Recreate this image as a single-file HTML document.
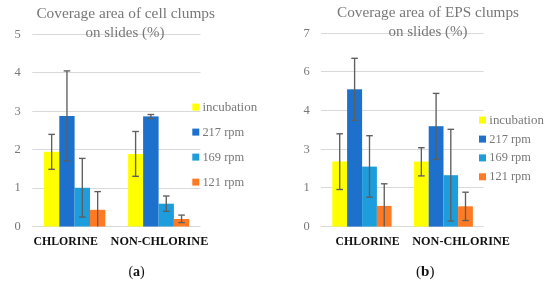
<!DOCTYPE html>
<html><head><meta charset="utf-8"><style>
html,body{margin:0;padding:0;background:#fff;}
body{width:550px;height:287px;overflow:hidden;}
svg{display:block;font-family:"Liberation Serif", serif;will-change:transform;}
</style></head><body>
<svg width="550" height="287" viewBox="0 0 550 287">
<rect width="550" height="287" fill="#fff"/>
<line x1="32.3" x2="200.5" y1="226.50" y2="226.50" stroke="#D9D9D9" stroke-width="1"/>
<text x="20.8" y="229.80" text-anchor="end" font-size="12.5" fill="#787878">0</text>
<line x1="32.3" x2="200.5" y1="188.50" y2="188.50" stroke="#D9D9D9" stroke-width="1"/>
<text x="20.8" y="191.38" text-anchor="end" font-size="12.5" fill="#787878">1</text>
<line x1="32.3" x2="200.5" y1="149.50" y2="149.50" stroke="#D9D9D9" stroke-width="1"/>
<text x="20.8" y="152.96" text-anchor="end" font-size="12.5" fill="#787878">2</text>
<line x1="32.3" x2="200.5" y1="111.50" y2="111.50" stroke="#D9D9D9" stroke-width="1"/>
<text x="20.8" y="114.54" text-anchor="end" font-size="12.5" fill="#787878">3</text>
<line x1="32.3" x2="200.5" y1="72.50" y2="72.50" stroke="#D9D9D9" stroke-width="1"/>
<text x="20.8" y="76.12" text-anchor="end" font-size="12.5" fill="#787878">4</text>
<line x1="32.3" x2="200.5" y1="34.50" y2="34.50" stroke="#D9D9D9" stroke-width="1"/>
<text x="20.8" y="37.70" text-anchor="end" font-size="12.5" fill="#787878">5</text>
<rect x="44" y="151.8" width="15.30" height="74.70" fill="#FFFF00"/>
<rect x="59.3" y="116" width="15.30" height="110.50" fill="#1D71CC"/>
<rect x="74.6" y="187.8" width="15.40" height="38.70" fill="#1E9DDC"/>
<rect x="90" y="209.8" width="15.30" height="16.70" fill="#FF7A22"/>
<rect x="128.1" y="154" width="15.00" height="72.50" fill="#FFFF00"/>
<rect x="143.1" y="116.4" width="15.50" height="110.10" fill="#1D71CC"/>
<rect x="158.6" y="203.7" width="15.30" height="22.80" fill="#1E9DDC"/>
<rect x="173.9" y="219" width="15.30" height="7.50" fill="#FF7A22"/>
<line x1="51.65" x2="51.65" y1="134.4" y2="169.3" stroke="#5E5E5E" stroke-width="1.35"/>
<line x1="48.35" x2="54.95" y1="134.4" y2="134.4" stroke="#5E5E5E" stroke-width="1.35"/>
<line x1="48.35" x2="54.95" y1="169.3" y2="169.3" stroke="#5E5E5E" stroke-width="1.35"/>
<line x1="66.95" x2="66.95" y1="70.9" y2="160.8" stroke="#5E5E5E" stroke-width="1.35"/>
<line x1="63.65" x2="70.25" y1="70.9" y2="70.9" stroke="#5E5E5E" stroke-width="1.35"/>
<line x1="63.65" x2="70.25" y1="160.8" y2="160.8" stroke="#5E5E5E" stroke-width="1.35"/>
<line x1="82.30" x2="82.30" y1="158.4" y2="217.1" stroke="#5E5E5E" stroke-width="1.35"/>
<line x1="79.00" x2="85.60" y1="158.4" y2="158.4" stroke="#5E5E5E" stroke-width="1.35"/>
<line x1="79.00" x2="85.60" y1="217.1" y2="217.1" stroke="#5E5E5E" stroke-width="1.35"/>
<line x1="97.65" x2="97.65" y1="191.6" y2="226.5" stroke="#5E5E5E" stroke-width="1.35"/>
<line x1="94.35" x2="100.95" y1="191.6" y2="191.6" stroke="#5E5E5E" stroke-width="1.35"/>
<line x1="135.60" x2="135.60" y1="131.5" y2="176.3" stroke="#5E5E5E" stroke-width="1.35"/>
<line x1="132.30" x2="138.90" y1="131.5" y2="131.5" stroke="#5E5E5E" stroke-width="1.35"/>
<line x1="132.30" x2="138.90" y1="176.3" y2="176.3" stroke="#5E5E5E" stroke-width="1.35"/>
<line x1="150.85" x2="150.85" y1="114.5" y2="118.6" stroke="#5E5E5E" stroke-width="1.35"/>
<line x1="147.55" x2="154.15" y1="114.5" y2="114.5" stroke="#5E5E5E" stroke-width="1.35"/>
<line x1="147.55" x2="154.15" y1="118.6" y2="118.6" stroke="#5E5E5E" stroke-width="1.35"/>
<line x1="166.25" x2="166.25" y1="196" y2="211.3" stroke="#5E5E5E" stroke-width="1.35"/>
<line x1="162.95" x2="169.55" y1="196" y2="196" stroke="#5E5E5E" stroke-width="1.35"/>
<line x1="162.95" x2="169.55" y1="211.3" y2="211.3" stroke="#5E5E5E" stroke-width="1.35"/>
<line x1="181.55" x2="181.55" y1="215.1" y2="222.6" stroke="#5E5E5E" stroke-width="1.35"/>
<line x1="178.25" x2="184.85" y1="215.1" y2="215.1" stroke="#5E5E5E" stroke-width="1.35"/>
<line x1="178.25" x2="184.85" y1="222.6" y2="222.6" stroke="#5E5E5E" stroke-width="1.35"/>
<text x="36.4" y="17.6" font-size="14.5" fill="#787878" textLength="178.6" lengthAdjust="spacingAndGlyphs">Coverage area of cell clumps</text>
<text x="85.5" y="37.3" font-size="14.5" fill="#787878" textLength="78.9" lengthAdjust="spacingAndGlyphs">on slides (%)</text>
<rect x="192.3" y="103.6" width="7" height="7" fill="#FFFF00"/>
<text x="202.4" y="110.5" font-size="12.5" fill="#787878" textLength="54.8" lengthAdjust="spacingAndGlyphs">incubation</text>
<rect x="192.3" y="128.6" width="7" height="7" fill="#1D71CC"/>
<text x="202.4" y="135.5" font-size="12.5" fill="#787878" textLength="41.8" lengthAdjust="spacingAndGlyphs">217 rpm</text>
<rect x="192.3" y="153.6" width="7" height="7" fill="#1E9DDC"/>
<text x="202.4" y="160.5" font-size="12.5" fill="#787878" textLength="41.8" lengthAdjust="spacingAndGlyphs">169 rpm</text>
<rect x="192.3" y="178.6" width="7" height="7" fill="#FF7A22"/>
<text x="202.4" y="185.5" font-size="12.5" fill="#787878" textLength="41.8" lengthAdjust="spacingAndGlyphs">121 rpm</text>
<text x="33.5" y="244.6" font-size="12" font-weight="bold" fill="#111" textLength="64.3" lengthAdjust="spacingAndGlyphs">CHLORINE</text>
<text x="110.6" y="244.6" font-size="12" font-weight="bold" fill="#111" textLength="97.7" lengthAdjust="spacingAndGlyphs">NON-CHLORINE</text>
<text x="128.4" y="275.6" font-size="15" fill="#111" textLength="16.4" lengthAdjust="spacingAndGlyphs">(<tspan font-weight="bold">a</tspan>)</text>
<line x1="321" x2="483.6" y1="226.50" y2="226.50" stroke="#D9D9D9" stroke-width="1"/>
<text x="309.8" y="229.90" text-anchor="end" font-size="12.5" fill="#787878">0</text>
<line x1="321" x2="483.6" y1="187.50" y2="187.50" stroke="#D9D9D9" stroke-width="1"/>
<text x="309.8" y="191.24" text-anchor="end" font-size="12.5" fill="#787878">1</text>
<line x1="321" x2="483.6" y1="149.50" y2="149.50" stroke="#D9D9D9" stroke-width="1"/>
<text x="309.8" y="152.58" text-anchor="end" font-size="12.5" fill="#787878">3</text>
<line x1="321" x2="483.6" y1="110.50" y2="110.50" stroke="#D9D9D9" stroke-width="1"/>
<text x="309.8" y="113.92" text-anchor="end" font-size="12.5" fill="#787878">4</text>
<line x1="321" x2="483.6" y1="71.50" y2="71.50" stroke="#D9D9D9" stroke-width="1"/>
<text x="309.8" y="75.26" text-anchor="end" font-size="12.5" fill="#787878">6</text>
<line x1="321" x2="483.6" y1="33.50" y2="33.50" stroke="#D9D9D9" stroke-width="1"/>
<text x="309.8" y="36.60" text-anchor="end" font-size="12.5" fill="#787878">7</text>
<rect x="332.3" y="161.5" width="14.80" height="65.10" fill="#FFFF00"/>
<rect x="347.1" y="89.3" width="15.00" height="137.30" fill="#1D71CC"/>
<rect x="362.1" y="166.6" width="14.80" height="60.00" fill="#1E9DDC"/>
<rect x="376.9" y="205.9" width="14.70" height="20.70" fill="#FF7A22"/>
<rect x="414" y="161.6" width="14.70" height="65.00" fill="#FFFF00"/>
<rect x="428.7" y="126.2" width="14.80" height="100.40" fill="#1D71CC"/>
<rect x="443.5" y="175.2" width="14.60" height="51.40" fill="#1E9DDC"/>
<rect x="458.1" y="206.3" width="14.80" height="20.30" fill="#FF7A22"/>
<line x1="339.70" x2="339.70" y1="133.8" y2="189.5" stroke="#5E5E5E" stroke-width="1.35"/>
<line x1="336.40" x2="343.00" y1="133.8" y2="133.8" stroke="#5E5E5E" stroke-width="1.35"/>
<line x1="336.40" x2="343.00" y1="189.5" y2="189.5" stroke="#5E5E5E" stroke-width="1.35"/>
<line x1="354.60" x2="354.60" y1="58.3" y2="120.4" stroke="#5E5E5E" stroke-width="1.35"/>
<line x1="351.30" x2="357.90" y1="58.3" y2="58.3" stroke="#5E5E5E" stroke-width="1.35"/>
<line x1="351.30" x2="357.90" y1="120.4" y2="120.4" stroke="#5E5E5E" stroke-width="1.35"/>
<line x1="369.50" x2="369.50" y1="135.7" y2="197.2" stroke="#5E5E5E" stroke-width="1.35"/>
<line x1="366.20" x2="372.80" y1="135.7" y2="135.7" stroke="#5E5E5E" stroke-width="1.35"/>
<line x1="366.20" x2="372.80" y1="197.2" y2="197.2" stroke="#5E5E5E" stroke-width="1.35"/>
<line x1="384.25" x2="384.25" y1="183.8" y2="226.6" stroke="#5E5E5E" stroke-width="1.35"/>
<line x1="380.95" x2="387.55" y1="183.8" y2="183.8" stroke="#5E5E5E" stroke-width="1.35"/>
<line x1="421.35" x2="421.35" y1="147.7" y2="175.9" stroke="#5E5E5E" stroke-width="1.35"/>
<line x1="418.05" x2="424.65" y1="147.7" y2="147.7" stroke="#5E5E5E" stroke-width="1.35"/>
<line x1="418.05" x2="424.65" y1="175.9" y2="175.9" stroke="#5E5E5E" stroke-width="1.35"/>
<line x1="436.10" x2="436.10" y1="93.4" y2="159.5" stroke="#5E5E5E" stroke-width="1.35"/>
<line x1="432.80" x2="439.40" y1="93.4" y2="93.4" stroke="#5E5E5E" stroke-width="1.35"/>
<line x1="432.80" x2="439.40" y1="159.5" y2="159.5" stroke="#5E5E5E" stroke-width="1.35"/>
<line x1="450.80" x2="450.80" y1="129.3" y2="221" stroke="#5E5E5E" stroke-width="1.35"/>
<line x1="447.50" x2="454.10" y1="129.3" y2="129.3" stroke="#5E5E5E" stroke-width="1.35"/>
<line x1="447.50" x2="454.10" y1="221" y2="221" stroke="#5E5E5E" stroke-width="1.35"/>
<line x1="465.50" x2="465.50" y1="192.2" y2="220.5" stroke="#5E5E5E" stroke-width="1.35"/>
<line x1="462.20" x2="468.80" y1="192.2" y2="192.2" stroke="#5E5E5E" stroke-width="1.35"/>
<line x1="462.20" x2="468.80" y1="220.5" y2="220.5" stroke="#5E5E5E" stroke-width="1.35"/>
<text x="337" y="17.2" font-size="14.5" fill="#787878" textLength="182" lengthAdjust="spacingAndGlyphs">Coverage area of EPS clumps</text>
<text x="388.4" y="36.2" font-size="14.5" fill="#787878" textLength="79.2" lengthAdjust="spacingAndGlyphs">on slides (%)</text>
<rect x="479" y="116.6" width="7" height="7" fill="#FFFF00"/>
<text x="489.3" y="123.6" font-size="12.5" fill="#787878" textLength="54.6" lengthAdjust="spacingAndGlyphs">incubation</text>
<rect x="479" y="135.6" width="7" height="7" fill="#1D71CC"/>
<text x="489.3" y="142.6" font-size="12.5" fill="#787878" textLength="41.5" lengthAdjust="spacingAndGlyphs">217 rpm</text>
<rect x="479" y="154.4" width="7" height="7" fill="#1E9DDC"/>
<text x="489.3" y="161.4" font-size="12.5" fill="#787878" textLength="41.5" lengthAdjust="spacingAndGlyphs">169 rpm</text>
<rect x="479" y="173.3" width="7" height="7" fill="#FF7A22"/>
<text x="489.3" y="180.3" font-size="12.5" fill="#787878" textLength="41.5" lengthAdjust="spacingAndGlyphs">121 rpm</text>
<text x="335.6" y="244.6" font-size="12" font-weight="bold" fill="#111" textLength="64" lengthAdjust="spacingAndGlyphs">CHLORINE</text>
<text x="412.3" y="244.6" font-size="12" font-weight="bold" fill="#111" textLength="97.6" lengthAdjust="spacingAndGlyphs">NON-CHLORINE</text>
<text x="416.1" y="275.6" font-size="15" fill="#111" textLength="18.4" lengthAdjust="spacingAndGlyphs">(<tspan font-weight="bold">b</tspan>)</text>
</svg>
</body></html>
